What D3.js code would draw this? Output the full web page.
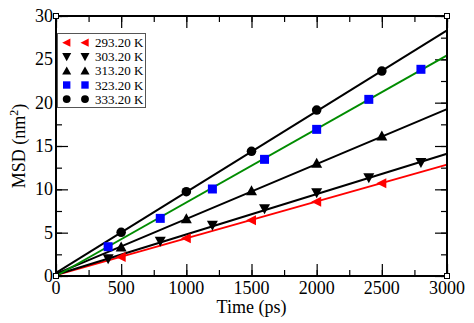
<!DOCTYPE html>
<html>
<head>
<meta charset="utf-8">
<script src="https://cdn.jsdelivr.net/npm/d3@7"></script>
<style>
  body { margin: 0; background: #fff; }
  svg { display: block; font-family: "Liberation Serif", "Times New Roman", serif; }
</style>
</head>
<body>
<svg id="chart"></svg>
<script>
// series names, marker times and values
const series_names = ["293.20 K", "303.20 K", "313.20 K", "323.20 K", "333.20 K"];
const series_times = [
    [500, 1000, 1500, 2000, 2500],
    [400, 800, 1200, 1600, 2000, 2400, 2800],
    [500, 1000, 1500, 2000, 2500],
    [400, 800, 1200, 1600, 2000, 2400, 2800],
    [500, 1000, 1500, 2000, 2500]
];
const series_msd = [
    [2.19, 4.35, 6.42, 8.58, 10.69],
    [2.0, 4.0, 5.85, 7.75, 9.6, 11.35, 13.1],
    [3.35, 6.6, 9.85, 13.0, 16.15],
    [3.38, 6.65, 10.04, 13.46, 16.92, 20.38, 23.85],
    [5.04, 9.73, 14.39, 19.15, 23.65]
];
// fitted straight lines: msd at t = 0 and t = 3000
const fit_start = [0.1, 0.15, 0.25, 0.0, 0.35];
const fit_end = [12.85, 14.1, 19.25, 25.45, 28.35];
const x_ticks = [0, 500, 1000, 1500, 2000, 2500, 3000];
const y_ticks = [0, 5, 10, 15, 20, 25, 30];

const line_colors = ["#ff0000", "#000000", "#000000", "#008c00", "#000000"];
const marker_colors = ["#ff0000", "#000000", "#000000", "#0000ff", "#000000"];

function get_svg() {
    return d3.select("#chart").attr("width", 474).attr("height", 323);
}

function marker_path(i) {
    if (i === 0) return "M-5.5,0L4.5,-5L4.5,5Z";
    if (i === 1) return "M-5.5,-4.5L5.5,-4.5L0,5.5Z";
    if (i === 2) return "M-5.5,4.5L5.5,4.5L0,-5.5Z";
    if (i === 3) return "M-4.5,-4.5L4.5,-4.5L4.5,4.5L-4.5,4.5Z";
    return d3.symbol(d3.symbolCircle, 72)();
}

function draw_chart() {
    const svg = get_svg();
    const left = 56, right = 447, top = 16, bottom = 276;

    const x = d3.scaleLinear().domain([0, 3000]).range([left, right]);
    const y = d3.scaleLinear().domain([0, 30]).range([bottom, top]);

    // inward ticks on all four sides
    const minor_x = d3.range(0, 3001, 250);
    const minor_y = d3.range(0, 30.1, 2.5);
    const major = 12, minor = 6;

    svg.append("g").attr("transform", `translate(0,${bottom})`)
        .call(d3.axisTop(x).tickValues(minor_x).tickSize(minor).tickFormat(""));
    svg.append("g").attr("transform", `translate(0,${bottom})`)
        .call(d3.axisTop(x).tickValues(x_ticks).tickSize(major).tickFormat(""));
    svg.append("g").attr("transform", `translate(0,${top})`)
        .call(d3.axisBottom(x).tickValues(minor_x).tickSize(minor).tickFormat(""));
    svg.append("g").attr("transform", `translate(0,${top})`)
        .call(d3.axisBottom(x).tickValues(x_ticks).tickSize(major).tickFormat(""));
    svg.append("g").attr("transform", `translate(${left},0)`)
        .call(d3.axisRight(y).tickValues(minor_y).tickSize(minor).tickFormat(""));
    svg.append("g").attr("transform", `translate(${left},0)`)
        .call(d3.axisRight(y).tickValues(y_ticks).tickSize(major).tickFormat(""));
    svg.append("g").attr("transform", `translate(${right},0)`)
        .call(d3.axisLeft(y).tickValues(minor_y).tickSize(minor).tickFormat(""));
    svg.append("g").attr("transform", `translate(${right},0)`)
        .call(d3.axisLeft(y).tickValues(y_ticks).tickSize(major).tickFormat(""));

    svg.selectAll(".domain").remove();
    svg.selectAll(".tick line").attr("stroke", "#000").attr("stroke-width", 1.2);

    // tick labels
    svg.append("g").selectAll("text")
        .data(x_ticks)
        .enter().append("text")
        .attr("x", d => x(d))
        .attr("y", 293.5)
        .attr("text-anchor", "middle")
        .attr("font-size", 18)
        .text(d => d);

    svg.append("g").selectAll("text")
        .data(y_ticks)
        .enter().append("text")
        .attr("x", 53)
        .attr("y", d => y(d))
        .attr("dy", "0.34em")
        .attr("text-anchor", "end")
        .attr("font-size", 18)
        .text(d => d);

    svg.append("text")
        .attr("x", (left + right) / 2)
        .attr("y", 313)
        .attr("text-anchor", "middle")
        .attr("font-size", 18)
        .text("Time (ps)");

    const ylab = svg.append("text")
        .attr("transform", `translate(25,${(top + bottom) / 2}) rotate(-90)`)
        .attr("text-anchor", "middle")
        .attr("font-size", 18)
        .text("MSD (nm");
    ylab.append("tspan").attr("dy", -7).attr("font-size", 12).text("2");
    ylab.append("tspan").attr("dy", 7).text(")");

    // fitted lines
    const line = d3.line().x(d => x(d[0])).y(d => y(d[1]));
    series_names.forEach((name, i) => {
        svg.append("path")
            .datum([[0, fit_start[i]], [3000, fit_end[i]]])
            .attr("d", line)
            .attr("fill", "none")
            .attr("stroke", line_colors[i])
            .attr("stroke-width", 2);
    });

    // markers
    series_names.forEach((name, i) => {
        svg.append("g").selectAll("path")
            .data(series_times[i].map((t, k) => [t, series_msd[i][k]]))
            .enter().append("path")
            .attr("d", marker_path(i))
            .attr("transform", d => `translate(${x(d[0])},${y(d[1])})`)
            .attr("fill", marker_colors[i]);
    });

    // frame
    svg.append("rect")
        .attr("x", left).attr("y", top)
        .attr("width", right - left).attr("height", bottom - top)
        .attr("fill", "none")
        .attr("stroke", "#000")
        .attr("stroke-width", 2);

    // small corner squares
    [[left, top], [right, top], [left, bottom], [right, bottom]].forEach(c => {
        svg.append("rect")
            .attr("x", c[0] - 2.5).attr("y", c[1] - 2.5)
            .attr("width", 5).attr("height", 5)
            .attr("fill", "#fff")
            .attr("stroke", "#000")
            .attr("stroke-width", 1);
    });

    // legend
    const legend = svg.append("g");
    legend.append("rect")
        .attr("x", 57.5).attr("y", 33.5)
        .attr("width", 88).attr("height", 74)
        .attr("fill", "#fff")
        .attr("stroke", "#555")
        .attr("stroke-width", 1);

    series_names.forEach((name, i) => {
        const ly = 42.7 + i * 14.1;
        [66.7, 85].forEach(lx => {
            legend.append("path")
                .attr("d", marker_path(i))
                .attr("transform", `translate(${lx},${ly}) scale(0.82)`)
                .attr("fill", marker_colors[i]);
        });
        legend.append("text")
            .attr("x", 95)
            .attr("y", ly)
            .attr("dy", "0.35em")
            .attr("font-size", 13)
            .text(name);
    });
}

draw_chart();
</script>
</body>
</html>
